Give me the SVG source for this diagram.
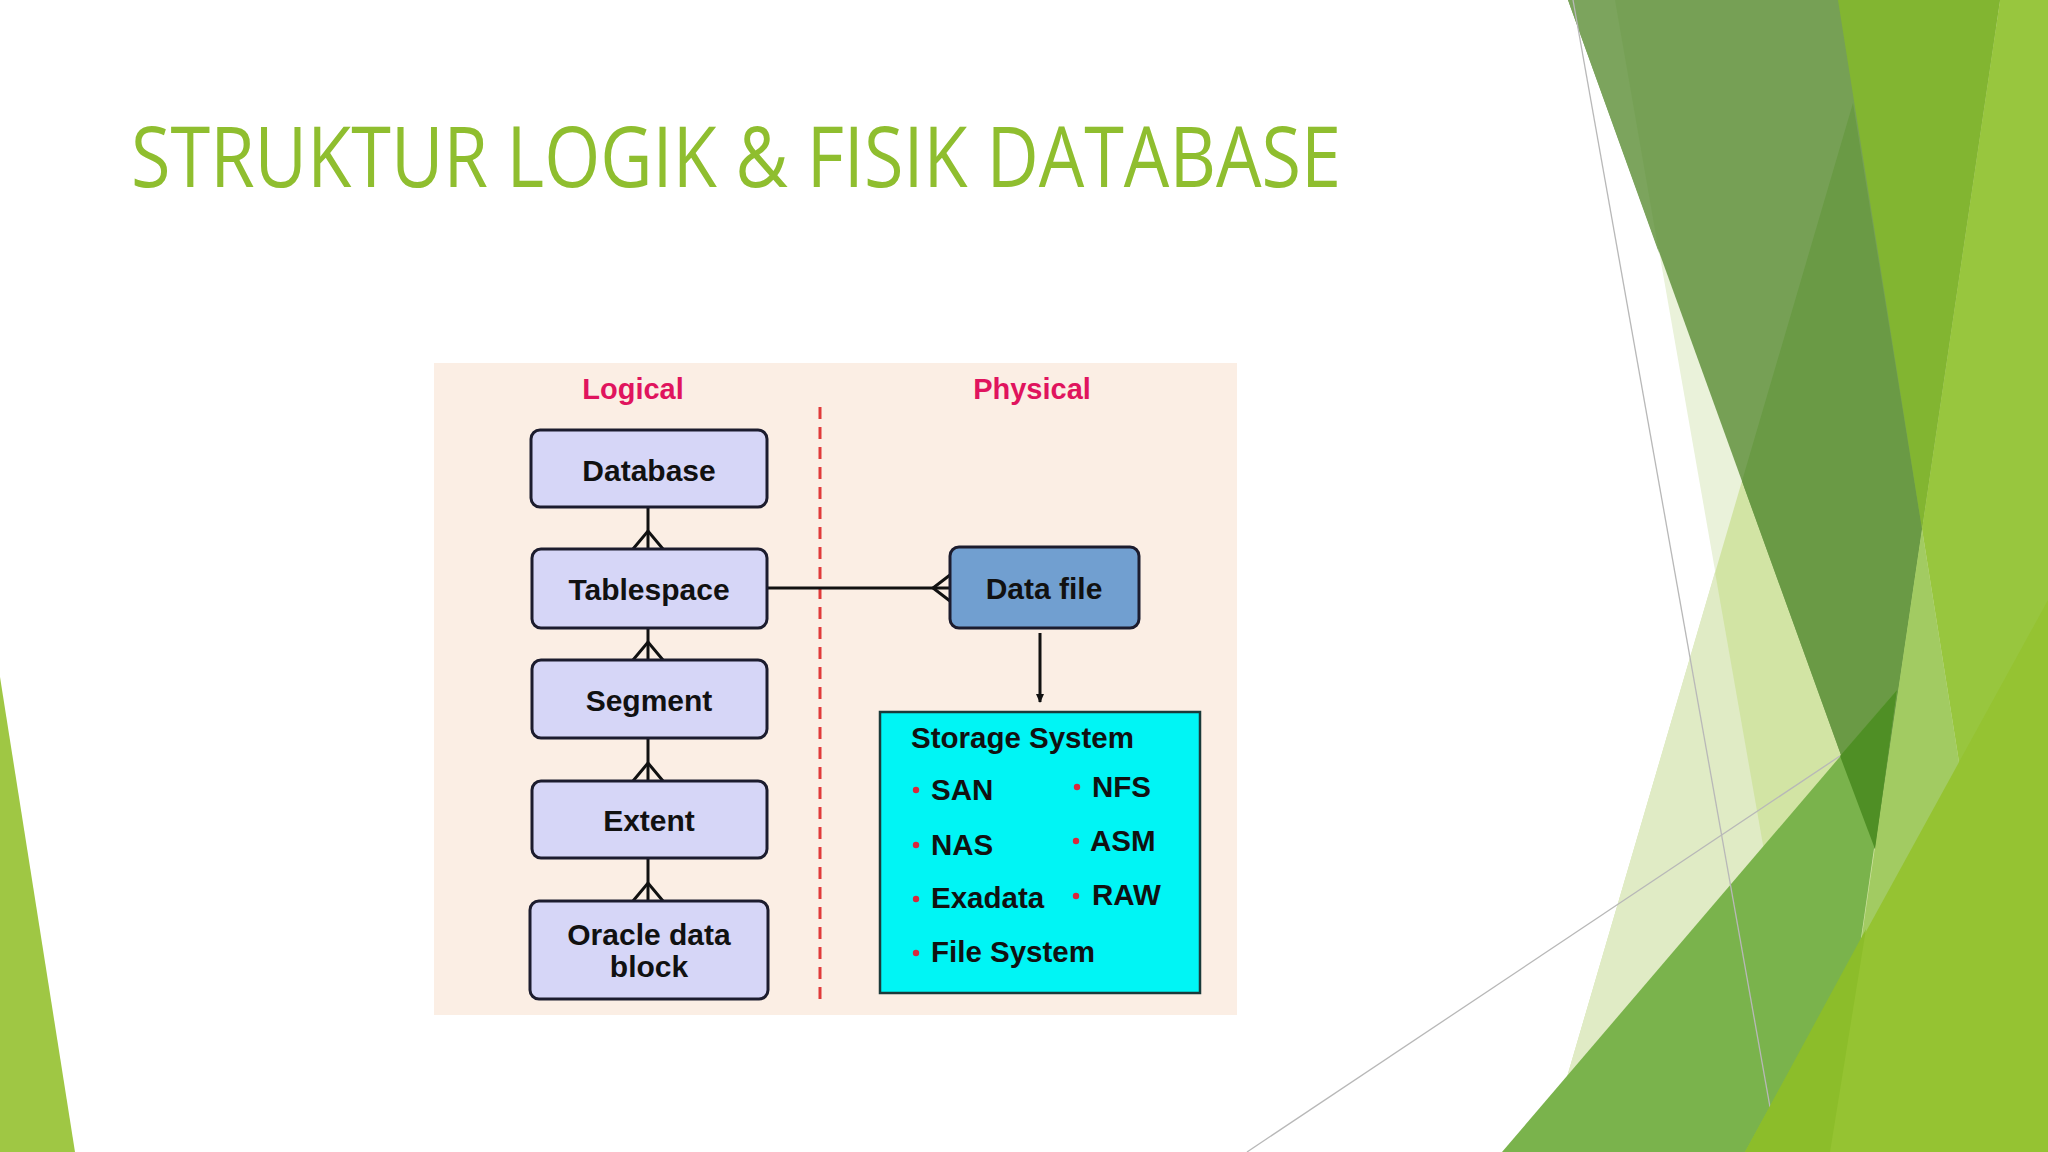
<svg xmlns="http://www.w3.org/2000/svg" width="2048" height="1152" viewBox="0 0 2048 1152">
  <defs>
    <style>
      .box { fill: #D6D6F7; stroke: #1C1C2E; stroke-width: 3; }
      .lbl { font-family: "Liberation Sans", Arial, sans-serif; font-weight: bold; font-size: 30px; fill: #111; text-anchor: middle; }
      .hdr { font-family: "Liberation Sans", Arial, sans-serif; font-weight: bold; font-size: 29px; fill: #E0145E; text-anchor: middle; }
      .item { font-family: "Liberation Sans", Arial, sans-serif; font-weight: bold; font-size: 29.5px; fill: #111; }
      .dot { fill: #D8283C; }
      .conn { stroke: #111; stroke-width: 3; fill: none; }
      .thin { stroke: #B8B8B8; stroke-width: 1.3; fill: none; }
    </style>
    <marker id="arr" markerWidth="10" markerHeight="10" refX="8" refY="5" orient="auto" markerUnits="userSpaceOnUse">
      <path d="M0,1 L9,5 L0,9 Z" fill="#111"/>
    </marker>
  </defs>

  <rect width="2048" height="1152" fill="#FFFFFF"/>

  <!-- decorative background -->
  <g id="decor">
    <polygon points="0,677 75,1152 0,1152" fill="#9FC744"/>
    <polygon points="1615,0 2048,0 2048,1152 1817,1152" fill="#EAF2DA"/>
    <polygon points="1853,103 2048,0 2048,1152 1545,1152" fill="#D2E4A4"/>
    <polygon points="1715,572 1817,1152 1545,1152" fill="#E0EBC5"/>
    <polygon points="1568,0 2000,0 1875,849" fill="#76A055"/>
    <polygon points="1568,0 1615,0 1659,253" fill="#7CA45D"/>
    <polygon points="1853,103 1922,529 1875,849 1742,481" fill="#6A9A45"/>
    <polygon points="1838,0 2000,0 1922,529" fill="#82B531"/>
    <polygon points="2000,0 2048,0 2048,1152 2021,1152 1922,529" fill="#98C63E"/>
    <polygon points="1922,529 2021,1152 1830,1152" fill="#A2CB62"/>
    <polygon points="1897,690 1830,1152 1502,1152" fill="#7AB34C"/>
    <polygon points="1840,756 1897,690 1875,849" fill="#4F8F25"/>
    <line class="thin" x1="1573" y1="0" x2="1778" y2="1152"/>
    <line class="thin" x1="1247" y1="1152" x2="1840" y2="756"/>
    <polygon points="2048,600 2048,1152 1745,1152" fill="#95C332"/>
    <polygon points="1866,929 1830,1152 1745,1152" fill="#8CBD2A"/>
  </g>

  <text id="title" x="131" y="187" font-family="'Open Sans', 'Liberation Sans', sans-serif" font-size="84" fill="#8FBE2F" textLength="1210" lengthAdjust="spacingAndGlyphs">STRUKTUR LOGIK &amp; FISIK DATABASE</text>

  <!-- diagram panel -->
  <rect x="434" y="363" width="803" height="652" fill="#FBEEE4"/>
  <text class="hdr" x="633" y="399">Logical</text>
  <text class="hdr" x="1032" y="399">Physical</text>
  <line x1="820" y1="407" x2="820" y2="1003" stroke="#E03A3A" stroke-width="3" stroke-dasharray="12 8"/>

  <g id="connectors">
    <line class="conn" x1="648" y1="507" x2="648" y2="549"/>
    <polyline class="conn" points="633,549 648,531 663,549"/>
    <line class="conn" x1="648" y1="628" x2="648" y2="660"/>
    <polyline class="conn" points="633,660 648,642 663,660"/>
    <line class="conn" x1="648" y1="738" x2="648" y2="781"/>
    <polyline class="conn" points="633,781 648,763 663,781"/>
    <line class="conn" x1="648" y1="858" x2="648" y2="901"/>
    <polyline class="conn" points="633,901 648,883 663,901"/>
    <line class="conn" x1="767" y1="588" x2="950" y2="588"/>
    <polyline class="conn" points="950,575 933,588 950,601"/>
    <line class="conn" x1="1040" y1="633" x2="1040" y2="702" marker-end="url(#arr)"/>
  </g>

  <g id="database">
    <rect class="box" x="531" y="430" width="236" height="77" rx="9"/>
    <text class="lbl" x="649" y="481">Database</text>
  </g>
  <g id="tablespace">
    <rect class="box" x="532" y="549" width="235" height="79" rx="9"/>
    <text class="lbl" x="649" y="600">Tablespace</text>
  </g>
  <g id="segment">
    <rect class="box" x="532" y="660" width="235" height="78" rx="9"/>
    <text class="lbl" x="649" y="711">Segment</text>
  </g>
  <g id="extent">
    <rect class="box" x="532" y="781" width="235" height="77" rx="9"/>
    <text class="lbl" x="649" y="831">Extent</text>
  </g>
  <g id="oracle-data-block">
    <rect class="box" x="530" y="901" width="238" height="98" rx="9"/>
    <text class="lbl" x="649" y="945">Oracle data</text>
    <text class="lbl" x="649" y="977">block</text>
  </g>
  <g id="data-file">
    <rect x="950" y="547" width="189" height="81" rx="9" fill="#719FD0" stroke="#1C1C2E" stroke-width="3"/>
    <text class="lbl" x="1044" y="599">Data file</text>
  </g>
  <g id="storage-system">
    <rect x="880" y="712" width="320" height="281" fill="#00F5F5" stroke="#1A3A3A" stroke-width="2.5"/>
    <text class="item" x="911" y="748">Storage System</text>
    <circle class="dot" cx="916" cy="790" r="3.2"/>
    <text class="item" x="931" y="800">SAN</text>
    <circle class="dot" cx="1077" cy="787" r="3.2"/>
    <text class="item" x="1092" y="797">NFS</text>
    <circle class="dot" cx="916" cy="845" r="3.2"/>
    <text class="item" x="931" y="855">NAS</text>
    <circle class="dot" cx="1076" cy="841" r="3.2"/>
    <text class="item" x="1090" y="851">ASM</text>
    <circle class="dot" cx="916" cy="899" r="3.2"/>
    <text class="item" x="931" y="908">Exadata</text>
    <circle class="dot" cx="1076" cy="896" r="3.2"/>
    <text class="item" x="1092" y="905">RAW</text>
    <circle class="dot" cx="916" cy="953" r="3.2"/>
    <text class="item" x="931" y="962">File System</text>
  </g>
</svg>
